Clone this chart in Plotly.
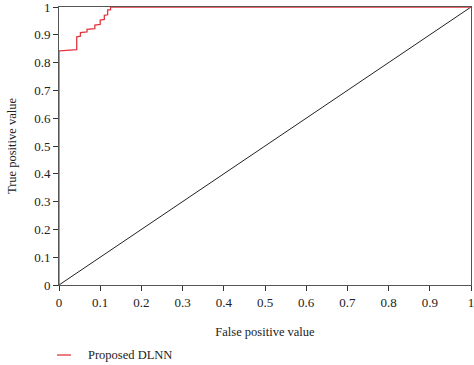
import plotly.graph_objects as go

# ROC curve of the proposed DLNN
fpr = [0, 0, 0.01, 0.02, 0.03, 0.043, 0.043, 0.052, 0.052, 0.068, 0.068, 0.087, 0.087,
       0.100, 0.100, 0.110, 0.110, 0.118, 0.118, 0.125, 0.125, 1.0]
tpr = [0, 0.842, 0.843, 0.844, 0.846, 0.847, 0.893, 0.895, 0.908, 0.910, 0.920, 0.922, 0.935,
       0.937, 0.953, 0.955, 0.970, 0.972, 0.990, 0.990, 1.0, 1.0]
chance_x = [0, 1]
chance_y = [0, 1]
tick_vals = [0, 0.1, 0.2, 0.3, 0.4, 0.5, 0.6, 0.7, 0.8, 0.9, 1]
tick_text = ["0", "0.1", "0.2", "0.3", "0.4", "0.5", "0.6", "0.7", "0.8", "0.9", "1"]
series_name = "Proposed DLNN"

FONT = "Liberation Serif"
RED = "#e2363f"

W, H = 474, 365
ML, MR, MT, MB = 59, 3, 7, 80
PW, PH = W - ML - MR, H - MT - MB

fig = go.Figure()
fig.add_trace(go.Scatter(x=chance_x, y=chance_y, mode="lines",
                         line=dict(color="#222222", width=1), showlegend=False, hoverinfo="skip"))
fig.add_trace(go.Scatter(x=fpr, y=tpr, mode="lines", name=series_name, showlegend=False,
                         line=dict(color=RED, width=1.3)))

axis_common = dict(
    tickmode="array", tickvals=tick_vals, ticktext=tick_text,
    ticks="outside", ticklen=5, tickcolor="#333333", tickwidth=1,
    showline=True, linecolor="#555555", linewidth=1, mirror=True,
    showgrid=False, zeroline=False, range=[0, 1], automargin=False,
    layer="below traces", ticklabeloverflow="allow",
    tickfont=dict(family=FONT, size=13, color="#222222"),
)

# legend drawn as a short key line + label below the plot (paper coordinates)
def px_x(p):
    return (p - ML) / PW

def px_y(p):
    return (H - MB - p) / PH

key_y = px_y(355)
fig.add_shape(type="line", xref="paper", yref="paper",
              x0=px_x(57), x1=px_x(71), y0=key_y, y1=key_y,
              line=dict(color=RED, width=1.3))
fig.add_annotation(xref="paper", yref="paper", x=px_x(86), y=key_y,
                   xanchor="left", yanchor="middle", showarrow=False,
                   text=series_name, font=dict(family=FONT, size=12.5, color="#222222"))

fig.update_layout(
    width=W, height=H, autosize=False,
    margin=dict(l=ML, r=MR, t=MT, b=MB),
    paper_bgcolor="white", plot_bgcolor="white",
    font=dict(family=FONT, size=12, color="#222222"),
    xaxis=dict(**axis_common, title=dict(text="False positive value",
                                         font=dict(family=FONT, size=12.5), standoff=18)),
    yaxis=dict(**axis_common,
               title=dict(text="True positive value",
                          font=dict(family=FONT, size=12.5), standoff=14)),
    showlegend=False,
)

fig.write_html("out.html", config={"displayModeBar": False, "responsive": False},
               post_script="document.body.style.margin='0';")
